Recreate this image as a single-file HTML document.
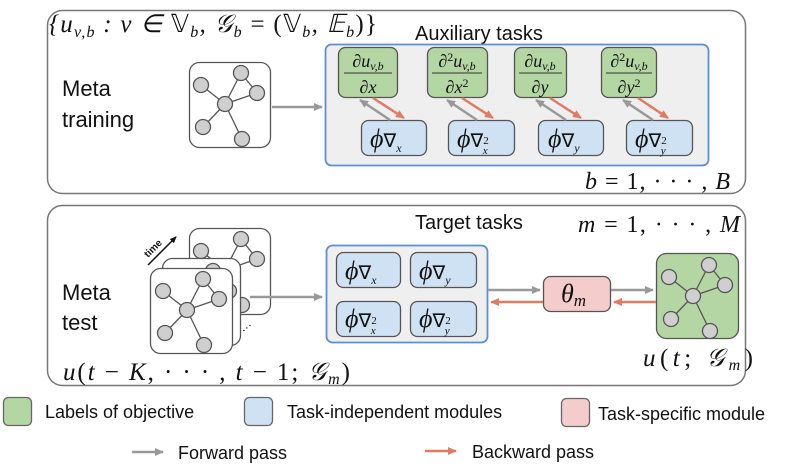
<!DOCTYPE html>
<html><head><meta charset="utf-8"><style>
body{margin:0;background:#fff}
svg{display:block}
.s{font-family:"Liberation Sans",sans-serif;fill:#111}
.m{font-family:"Liberation Serif",serif;font-style:italic;fill:#111}
.r{font-family:"Liberation Serif",serif;fill:#111}
</style></head><body>
<svg width="804" height="470" viewBox="0 0 804 470" xmlns="http://www.w3.org/2000/svg">
<defs>
<marker id="ag" markerWidth="10" markerHeight="10" refX="8" refY="5" orient="auto" markerUnits="userSpaceOnUse"><path d="M0,1 L9,5 L0,9 z" fill="#999"/></marker>
<marker id="ar" markerWidth="10" markerHeight="10" refX="8" refY="5" orient="auto" markerUnits="userSpaceOnUse"><path d="M0,1 L9,5 L0,9 z" fill="#e07a60"/></marker>
<marker id="ak" markerWidth="8" markerHeight="8" refX="6" refY="4" orient="auto" markerUnits="userSpaceOnUse"><path d="M0,1 L7,4 L0,7 z" fill="#111"/></marker>
<g id="gr" stroke="#555" stroke-width="1.3">
<line x1="35" y1="40" x2="51" y2="9"/><line x1="35" y1="40" x2="67" y2="29"/><line x1="51" y1="9" x2="67" y2="29"/>
<line x1="35" y1="40" x2="11" y2="21"/><line x1="35" y1="40" x2="13" y2="63"/><line x1="35" y1="40" x2="52" y2="75"/>
<g fill="#cfcfcf"><circle cx="35" cy="40" r="7.5"/><circle cx="51" cy="9" r="7.5"/><circle cx="67" cy="29" r="7.5"/><circle cx="11" cy="21" r="7.5"/><circle cx="13" cy="63" r="7.5"/><circle cx="52" cy="75" r="7.5"/></g>
</g>
</defs>
<!-- top box -->
<rect x="47.5" y="10.5" width="698" height="183" rx="15" fill="#fff" stroke="#777" stroke-width="1.5"/>
<text x="49" y="32" class="m" font-size="25" textLength="328" lengthAdjust="spacing">{u<tspan font-size="16" dy="5">v,b</tspan><tspan dy="-5"> : v ∈ </tspan><tspan class="r" font-style="normal">𝕍</tspan><tspan font-size="16" dy="5">b</tspan><tspan dy="-5">, 𝒢</tspan><tspan font-size="16" dy="5">b</tspan><tspan dy="-5" font-style="normal"> = (𝕍</tspan><tspan font-size="16" dy="5">b</tspan><tspan dy="-5">, 𝔼</tspan><tspan font-size="16" dy="5">b</tspan><tspan dy="-5" font-style="normal">)}</tspan></text>
<text x="62" y="96" class="s" font-size="22">Meta</text>
<text x="62" y="127" class="s" font-size="22">training</text>
<rect x="189.5" y="62.5" width="81" height="85" rx="10" fill="#fff" stroke="#555" stroke-width="1.3"/>
<use href="#gr" x="190" y="64"/>
<line x1="272" y1="107" x2="322" y2="107" stroke="#999" stroke-width="2.5" marker-end="url(#ag)"/>
<text x="415" y="40" class="s" font-size="20">Auxiliary tasks</text>
<rect x="325.5" y="44.5" width="383" height="121" rx="6" fill="#efefef" stroke="#5b8fd9" stroke-width="1.8"/>
<g stroke="#555" stroke-width="1.3">
<rect x="338.5" y="47.5" width="59" height="50" rx="7" fill="#b3d6a3"/>
<rect x="427.5" y="47.5" width="60" height="50" rx="7" fill="#b3d6a3"/>
<rect x="514.5" y="47.5" width="52" height="50" rx="7" fill="#b3d6a3"/>
<rect x="601.5" y="47.5" width="55" height="50" rx="7" fill="#b3d6a3"/>
<rect x="361.5" y="120.5" width="65" height="35" rx="7" fill="#cfe2f3"/>
<rect x="448.5" y="120.5" width="66" height="35" rx="7" fill="#cfe2f3"/>
<rect x="538.5" y="120.5" width="65" height="35" rx="7" fill="#cfe2f3"/>
<rect x="626.5" y="120.5" width="66" height="35" rx="7" fill="#cfe2f3"/>
</g>
<g class="m" font-size="18" text-anchor="middle">
<text x="368" y="67">∂u<tspan font-size="12" dy="3">v,b</tspan></text><text x="368" y="93">∂x</text>
<text x="457" y="67"><tspan font-style="normal">∂</tspan><tspan font-size="12" dy="-6" font-style="normal">2</tspan><tspan dy="6">u</tspan><tspan font-size="12" dy="3">v,b</tspan></text><text x="457" y="93">∂x<tspan font-size="12" dy="-6" font-style="normal">2</tspan></text>
<text x="540" y="67">∂u<tspan font-size="12" dy="3">v,b</tspan></text><text x="540" y="93">∂y</text>
<text x="629" y="67"><tspan font-style="normal">∂</tspan><tspan font-size="12" dy="-6" font-style="normal">2</tspan><tspan dy="6">u</tspan><tspan font-size="12" dy="3">v,b</tspan></text><text x="629" y="93">∂y<tspan font-size="12" dy="-6" font-style="normal">2</tspan></text>
</g>
<g stroke="#333" stroke-width="1"><line x1="344" y1="73" x2="392" y2="73"/><line x1="432" y1="73" x2="482" y2="73"/><line x1="519" y1="73" x2="562" y2="73"/><line x1="606" y1="73" x2="652" y2="73"/></g>
<g class="m" font-size="26">
<text x="370" y="147">ϕ<tspan font-style="normal" font-size="19">∇</tspan><tspan font-size="12" dy="5">x</tspan></text>
<text x="457" y="147">ϕ<tspan font-style="normal" font-size="19">∇</tspan><tspan font-size="11" dy="-3" font-style="normal">2</tspan><tspan font-size="11" dx="-6" dy="10">x</tspan></text>
<text x="548" y="147">ϕ<tspan font-style="normal" font-size="19">∇</tspan><tspan font-size="12" dy="5">y</tspan></text>
<text x="635" y="147">ϕ<tspan font-style="normal" font-size="19">∇</tspan><tspan font-size="11" dy="-3" font-style="normal">2</tspan><tspan font-size="11" dx="-6" dy="10">y</tspan></text>
</g>
<g stroke-width="2.5">
<line x1="390" y1="120" x2="360" y2="100" stroke="#999" marker-end="url(#ag)"/>
<line x1="373" y1="98" x2="404" y2="118" stroke="#e07a60" marker-end="url(#ar)"/>
<line x1="477" y1="120" x2="447" y2="100" stroke="#999" marker-end="url(#ag)"/>
<line x1="462" y1="98" x2="493" y2="118" stroke="#e07a60" marker-end="url(#ar)"/>
<line x1="566" y1="120" x2="536" y2="100" stroke="#999" marker-end="url(#ag)"/>
<line x1="550" y1="98" x2="581" y2="118" stroke="#e07a60" marker-end="url(#ar)"/>
<line x1="653" y1="120" x2="623" y2="100" stroke="#999" marker-end="url(#ag)"/>
<line x1="638" y1="98" x2="668" y2="118" stroke="#e07a60" marker-end="url(#ar)"/>
</g>
<text x="585" y="189" class="m" font-size="24" textLength="145" lengthAdjust="spacing">b <tspan font-style="normal">= 1, · · · ,</tspan> B</text>

<!-- bottom box -->
<rect x="47.5" y="205.5" width="698" height="180" rx="15" fill="#fff" stroke="#777" stroke-width="1.5"/>
<text x="415" y="229" class="s" font-size="20">Target tasks</text>
<text x="578" y="232" class="m" font-size="24" textLength="162" lengthAdjust="spacing">m <tspan font-style="normal">= 1, · · · ,</tspan> M</text>
<text x="62" y="300" class="s" font-size="22">Meta</text>
<text x="62" y="330" class="s" font-size="22">test</text>
<line x1="148" y1="265" x2="176" y2="237" stroke="#111" stroke-width="1.5" marker-end="url(#ak)"/>
<text x="0" y="0" class="s" font-size="10" font-weight="bold" transform="translate(148,258) rotate(-45)">time</text>
<rect x="189.5" y="228.5" width="81" height="86" rx="10" fill="#fff" stroke="#555" stroke-width="1.3"/>
<use href="#gr" x="190" y="230"/>
<rect x="162.5" y="258.5" width="78" height="87" rx="10" fill="#fff" stroke="#555" stroke-width="1.3"/>
<use href="#gr" x="162" y="262"/>
<rect x="150.5" y="268.5" width="82" height="85" rx="10" fill="#fff" stroke="#555" stroke-width="1.3"/>
<use href="#gr" x="152" y="270"/>
<text x="242" y="333" class="r" font-size="12" transform="rotate(-40 246 330)">···</text>
<line x1="250" y1="297" x2="322" y2="297" stroke="#999" stroke-width="2.5" marker-end="url(#ag)"/>
<text x="63" y="380" class="m" font-size="25" textLength="287" lengthAdjust="spacing">u<tspan font-style="normal">(</tspan>t <tspan font-style="normal">−</tspan> K<tspan font-style="normal">, · · · ,</tspan> t <tspan font-style="normal">− 1;</tspan> 𝒢<tspan font-size="16" dy="4">m</tspan><tspan font-style="normal" dy="-4">)</tspan></text>
<rect x="326.5" y="245.5" width="161" height="97" rx="6" fill="#efefef" stroke="#5b8fd9" stroke-width="1.8"/>
<g stroke="#555" stroke-width="1.3" fill="#cfe2f3">
<rect x="336.5" y="252.5" width="64" height="35" rx="7"/><rect x="410.5" y="252.5" width="66" height="35" rx="7"/>
<rect x="336.5" y="301.5" width="64" height="35" rx="7"/><rect x="410.5" y="301.5" width="66" height="35" rx="7"/>
</g>
<g class="m" font-size="26">
<text x="345" y="279">ϕ<tspan font-style="normal" font-size="19">∇</tspan><tspan font-size="12" dy="5">x</tspan></text>
<text x="419" y="279">ϕ<tspan font-style="normal" font-size="19">∇</tspan><tspan font-size="12" dy="5">y</tspan></text>
<text x="345" y="327">ϕ<tspan font-style="normal" font-size="19">∇</tspan><tspan font-size="11" dy="-3" font-style="normal">2</tspan><tspan font-size="11" dx="-6" dy="10">x</tspan></text>
<text x="419" y="327">ϕ<tspan font-style="normal" font-size="19">∇</tspan><tspan font-size="11" dy="-3" font-style="normal">2</tspan><tspan font-size="11" dx="-6" dy="10">y</tspan></text>
</g>
<rect x="543.5" y="276.5" width="67" height="35" rx="7" fill="#f4cccc" stroke="#555" stroke-width="1.3"/>
<text x="561" y="302" class="m" font-size="26">θ<tspan font-size="17" dy="4">m</tspan></text>
<rect x="656.5" y="253.5" width="82" height="85" rx="10" fill="#b3d6a3" stroke="#555" stroke-width="1.3"/>
<use href="#gr" x="658" y="256"/>
<g stroke-width="2.5">
<line x1="488" y1="290" x2="540" y2="290" stroke="#999" marker-end="url(#ag)"/>
<line x1="543" y1="302" x2="491" y2="302" stroke="#e07a60" marker-end="url(#ar)"/>
<line x1="611" y1="290" x2="653" y2="290" stroke="#999" marker-end="url(#ag)"/>
<line x1="656" y1="302" x2="614" y2="302" stroke="#e07a60" marker-end="url(#ar)"/>
</g>
<text x="643" y="366" class="m" font-size="25" textLength="110" lengthAdjust="spacing">u<tspan font-style="normal">(</tspan>t<tspan font-style="normal">;</tspan> 𝒢<tspan font-size="16" dy="4">m</tspan><tspan font-style="normal" dy="-4">)</tspan></text>

<!-- legend -->
<g stroke="#666" stroke-width="1.3">
<rect x="3.5" y="397.5" width="28" height="28" rx="5" fill="#b3d6a3"/>
<rect x="244.5" y="397.5" width="28" height="28" rx="5" fill="#cfe2f3"/>
<rect x="561.5" y="398.5" width="28" height="28" rx="5" fill="#f4cccc"/>
</g>
<text x="45" y="418" class="s" font-size="18">Labels of objective</text>
<text x="287" y="418" class="s" font-size="18">Task-independent modules</text>
<text x="598" y="420" class="s" font-size="18">Task-specific module</text>
<line x1="132" y1="452" x2="163" y2="452" stroke="#999" stroke-width="2.5" marker-end="url(#ag)"/>
<text x="178" y="459" class="s" font-size="18">Forward pass</text>
<line x1="425" y1="451" x2="456" y2="451" stroke="#e07a60" stroke-width="2.5" marker-end="url(#ar)"/>
<text x="472" y="458" class="s" font-size="18">Backward pass</text>
</svg>
</body></html>
